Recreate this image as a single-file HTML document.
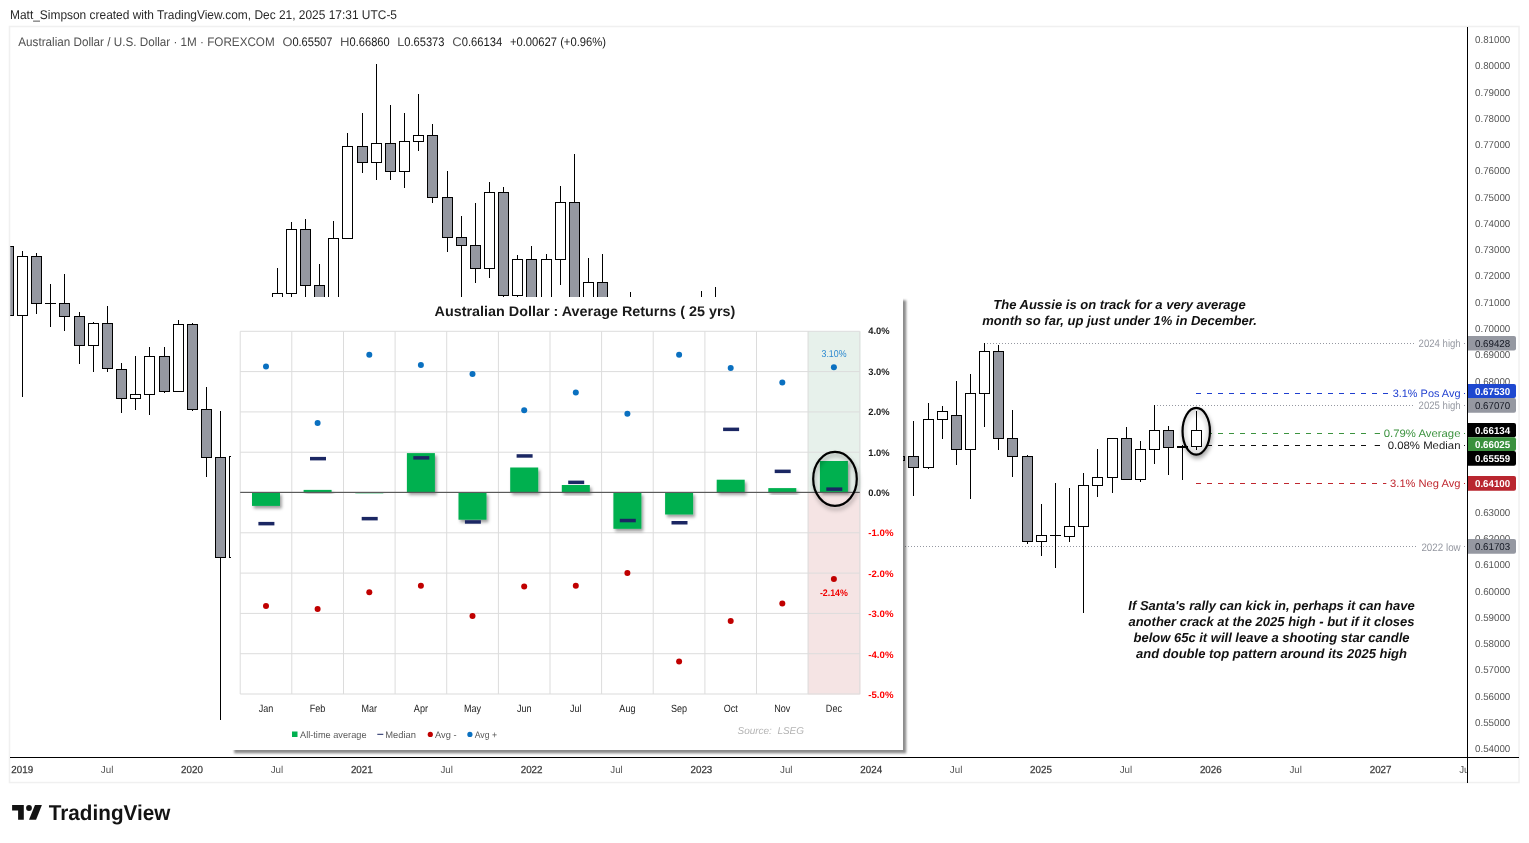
<!DOCTYPE html>
<html><head><meta charset="utf-8"><style>
html,body{margin:0;padding:0;background:#fff;}
svg{display:block;will-change:transform;} text{text-rendering:geometricPrecision;}
</style></head><body>
<svg width="1529" height="843" viewBox="0 0 1529 843">
<rect width="1529" height="843" fill="#fff"/>
<defs>
<filter id="pshadow" x="-5%" y="-5%" width="110%" height="110%"><feDropShadow dx="3.2" dy="3.3" stdDeviation="1.1" flood-color="#000" flood-opacity="0.45"/></filter>
<filter id="bshadow" x="-30%" y="-50%" width="160%" height="200%"><feDropShadow dx="1.8" dy="2.6" stdDeviation="1.8" flood-color="#000" flood-opacity="0.38"/></filter>
<filter id="eshadow" x="-30%" y="-30%" width="160%" height="160%"><feDropShadow dx="1" dy="3" stdDeviation="2" flood-color="#000" flood-opacity="0.35"/></filter>
<radialGradient id="eg" cx="50%" cy="50%" r="50%"><stop offset="0.55" stop-color="#fff"/><stop offset="1" stop-color="#d6d6d6"/></radialGradient>
<clipPath id="tclip"><rect x="10" y="758" width="1457" height="25"/></clipPath>
<clipPath id="plot"><rect x="10" y="27" width="1457" height="730"/></clipPath>
</defs>
<g clip-path="url(#plot)">
<line x1="984" y1="343.5" x2="1414" y2="343.5" stroke="#9598a1" stroke-width="1" stroke-dasharray="1 2"/>
<line x1="1154" y1="405.5" x2="1414" y2="405.5" stroke="#9598a1" stroke-width="1" stroke-dasharray="1 2"/>
<line x1="659" y1="546.5" x2="1416" y2="546.5" stroke="#9598a1" stroke-width="1" stroke-dasharray="1 2"/>
<line x1="1196" y1="393.5" x2="1388" y2="393.5" stroke="#1f3fd0" stroke-width="1" stroke-dasharray="5 6"/>
<line x1="1196" y1="433.5" x2="1367" y2="433.5" stroke="#3c933f" stroke-width="1" stroke-dasharray="5 6"/>
<rect x="1374.7" y="433" width="5.3" height="1" fill="#3c933f"/>
<line x1="1196" y1="445.5" x2="1367" y2="445.5" stroke="#111" stroke-width="1" stroke-dasharray="5 6"/>
<rect x="1374.7" y="445" width="5.3" height="1" fill="#111"/>
<line x1="1196" y1="483.5" x2="1386.3" y2="483.5" stroke="#c0272f" stroke-width="1" stroke-dasharray="5 6"/>
<ellipse cx="1196.25" cy="431.25" rx="13.7" ry="23.4" fill="url(#eg)" stroke="#000" stroke-width="2.2" filter="url(#eshadow)"/>
<rect x="3" y="246" width="11" height="70" fill="#000"/>
<rect x="4" y="247" width="9" height="68" fill="#9598a1"/>
<rect x="22" y="251" width="1" height="5" fill="#000"/>
<rect x="22" y="316" width="1" height="81" fill="#000"/>
<rect x="17" y="256" width="11" height="60" fill="#000"/>
<rect x="18" y="257" width="9" height="58" fill="#ffffff"/>
<rect x="36" y="253" width="1" height="3" fill="#000"/>
<rect x="36" y="304" width="1" height="10" fill="#000"/>
<rect x="31" y="256" width="11" height="48" fill="#000"/>
<rect x="32" y="257" width="9" height="46" fill="#9598a1"/>
<rect x="50" y="284" width="1" height="19" fill="#000"/>
<rect x="50" y="304" width="1" height="23" fill="#000"/>
<rect x="45" y="303" width="11" height="1" fill="#000"/>
<rect x="64" y="274" width="1" height="29" fill="#000"/>
<rect x="64" y="317" width="1" height="14" fill="#000"/>
<rect x="59" y="303" width="11" height="14" fill="#000"/>
<rect x="60" y="304" width="9" height="12" fill="#9598a1"/>
<rect x="79" y="312" width="1" height="4" fill="#000"/>
<rect x="79" y="346" width="1" height="18" fill="#000"/>
<rect x="74" y="316" width="11" height="30" fill="#000"/>
<rect x="75" y="317" width="9" height="28" fill="#9598a1"/>
<rect x="93" y="322" width="1" height="1" fill="#000"/>
<rect x="93" y="346" width="1" height="26" fill="#000"/>
<rect x="88" y="323" width="11" height="23" fill="#000"/>
<rect x="89" y="324" width="9" height="21" fill="#ffffff"/>
<rect x="107" y="306" width="1" height="17" fill="#000"/>
<rect x="107" y="369" width="1" height="3" fill="#000"/>
<rect x="102" y="323" width="11" height="46" fill="#000"/>
<rect x="103" y="324" width="9" height="44" fill="#9598a1"/>
<rect x="121" y="363" width="1" height="6" fill="#000"/>
<rect x="121" y="399" width="1" height="14" fill="#000"/>
<rect x="116" y="369" width="11" height="30" fill="#000"/>
<rect x="117" y="370" width="9" height="28" fill="#9598a1"/>
<rect x="135" y="356" width="1" height="38" fill="#000"/>
<rect x="135" y="399" width="1" height="11" fill="#000"/>
<rect x="130" y="394" width="11" height="5" fill="#000"/>
<rect x="131" y="395" width="9" height="3" fill="#ffffff"/>
<rect x="149" y="347" width="1" height="9" fill="#000"/>
<rect x="149" y="395" width="1" height="20" fill="#000"/>
<rect x="144" y="356" width="11" height="39" fill="#000"/>
<rect x="145" y="357" width="9" height="37" fill="#ffffff"/>
<rect x="164" y="347" width="1" height="9" fill="#000"/>
<rect x="164" y="392" width="1" height="1" fill="#000"/>
<rect x="159" y="356" width="11" height="36" fill="#000"/>
<rect x="160" y="357" width="9" height="34" fill="#9598a1"/>
<rect x="178" y="320" width="1" height="4" fill="#000"/>
<rect x="173" y="324" width="11" height="68" fill="#000"/>
<rect x="174" y="325" width="9" height="66" fill="#ffffff"/>
<rect x="192" y="323" width="1" height="1" fill="#000"/>
<rect x="192" y="410" width="1" height="1" fill="#000"/>
<rect x="187" y="324" width="11" height="86" fill="#000"/>
<rect x="188" y="325" width="9" height="84" fill="#9598a1"/>
<rect x="206" y="387" width="1" height="22" fill="#000"/>
<rect x="206" y="458" width="1" height="19" fill="#000"/>
<rect x="201" y="409" width="11" height="49" fill="#000"/>
<rect x="202" y="410" width="9" height="47" fill="#9598a1"/>
<rect x="220" y="411" width="1" height="46" fill="#000"/>
<rect x="220" y="558" width="1" height="162" fill="#000"/>
<rect x="215" y="457" width="11" height="101" fill="#000"/>
<rect x="216" y="458" width="9" height="99" fill="#9598a1"/>
<rect x="229" y="456" width="11" height="102" fill="#000"/>
<rect x="230" y="457" width="9" height="100" fill="#ffffff"/>
<rect x="277" y="268" width="1" height="25" fill="#000"/>
<rect x="277" y="330" width="1" height="10" fill="#000"/>
<rect x="272" y="293" width="11" height="37" fill="#000"/>
<rect x="273" y="294" width="9" height="35" fill="#ffffff"/>
<rect x="291" y="222" width="1" height="7" fill="#000"/>
<rect x="291" y="294" width="1" height="16" fill="#000"/>
<rect x="286" y="229" width="11" height="65" fill="#000"/>
<rect x="287" y="230" width="9" height="63" fill="#ffffff"/>
<rect x="305" y="219" width="1" height="10" fill="#000"/>
<rect x="305" y="286" width="1" height="24" fill="#000"/>
<rect x="300" y="229" width="11" height="57" fill="#000"/>
<rect x="301" y="230" width="9" height="55" fill="#9598a1"/>
<rect x="319" y="264" width="1" height="21" fill="#000"/>
<rect x="319" y="330" width="1" height="10" fill="#000"/>
<rect x="314" y="285" width="11" height="45" fill="#000"/>
<rect x="315" y="286" width="9" height="43" fill="#9598a1"/>
<rect x="333" y="221" width="1" height="17" fill="#000"/>
<rect x="333" y="330" width="1" height="10" fill="#000"/>
<rect x="328" y="238" width="11" height="92" fill="#000"/>
<rect x="329" y="239" width="9" height="90" fill="#ffffff"/>
<rect x="347" y="133" width="1" height="13" fill="#000"/>
<rect x="342" y="146" width="11" height="93" fill="#000"/>
<rect x="343" y="147" width="9" height="91" fill="#ffffff"/>
<rect x="362" y="113" width="1" height="33" fill="#000"/>
<rect x="362" y="163" width="1" height="10" fill="#000"/>
<rect x="357" y="146" width="11" height="17" fill="#000"/>
<rect x="358" y="147" width="9" height="15" fill="#9598a1"/>
<rect x="376" y="64" width="1" height="79" fill="#000"/>
<rect x="376" y="163" width="1" height="17" fill="#000"/>
<rect x="371" y="143" width="11" height="20" fill="#000"/>
<rect x="372" y="144" width="9" height="18" fill="#ffffff"/>
<rect x="390" y="105" width="1" height="38" fill="#000"/>
<rect x="390" y="172" width="1" height="8" fill="#000"/>
<rect x="385" y="143" width="11" height="29" fill="#000"/>
<rect x="386" y="144" width="9" height="27" fill="#9598a1"/>
<rect x="404" y="113" width="1" height="28" fill="#000"/>
<rect x="404" y="172" width="1" height="16" fill="#000"/>
<rect x="399" y="141" width="11" height="31" fill="#000"/>
<rect x="400" y="142" width="9" height="29" fill="#ffffff"/>
<rect x="418" y="94" width="1" height="41" fill="#000"/>
<rect x="418" y="142" width="1" height="9" fill="#000"/>
<rect x="413" y="135" width="11" height="7" fill="#000"/>
<rect x="414" y="136" width="9" height="5" fill="#ffffff"/>
<rect x="432" y="124" width="1" height="11" fill="#000"/>
<rect x="432" y="198" width="1" height="5" fill="#000"/>
<rect x="427" y="135" width="11" height="63" fill="#000"/>
<rect x="428" y="136" width="9" height="61" fill="#9598a1"/>
<rect x="447" y="171" width="1" height="26" fill="#000"/>
<rect x="447" y="238" width="1" height="14" fill="#000"/>
<rect x="442" y="197" width="11" height="41" fill="#000"/>
<rect x="443" y="198" width="9" height="39" fill="#9598a1"/>
<rect x="461" y="216" width="1" height="21" fill="#000"/>
<rect x="461" y="246" width="1" height="84" fill="#000"/>
<rect x="456" y="237" width="11" height="9" fill="#000"/>
<rect x="457" y="238" width="9" height="7" fill="#9598a1"/>
<rect x="475" y="203" width="1" height="42" fill="#000"/>
<rect x="475" y="269" width="1" height="14" fill="#000"/>
<rect x="470" y="245" width="11" height="24" fill="#000"/>
<rect x="471" y="246" width="9" height="22" fill="#9598a1"/>
<rect x="489" y="182" width="1" height="10" fill="#000"/>
<rect x="489" y="269" width="1" height="9" fill="#000"/>
<rect x="484" y="192" width="11" height="77" fill="#000"/>
<rect x="485" y="193" width="9" height="75" fill="#ffffff"/>
<rect x="503" y="187" width="1" height="5" fill="#000"/>
<rect x="503" y="296" width="1" height="4" fill="#000"/>
<rect x="498" y="192" width="11" height="104" fill="#000"/>
<rect x="499" y="193" width="9" height="102" fill="#9598a1"/>
<rect x="517" y="255" width="1" height="4" fill="#000"/>
<rect x="517" y="296" width="1" height="4" fill="#000"/>
<rect x="512" y="259" width="11" height="37" fill="#000"/>
<rect x="513" y="260" width="9" height="35" fill="#ffffff"/>
<rect x="531" y="246" width="1" height="13" fill="#000"/>
<rect x="531" y="330" width="1" height="10" fill="#000"/>
<rect x="526" y="259" width="11" height="71" fill="#000"/>
<rect x="527" y="260" width="9" height="69" fill="#9598a1"/>
<rect x="546" y="254" width="1" height="5" fill="#000"/>
<rect x="546" y="330" width="1" height="10" fill="#000"/>
<rect x="541" y="259" width="11" height="71" fill="#000"/>
<rect x="542" y="260" width="9" height="69" fill="#ffffff"/>
<rect x="560" y="186" width="1" height="16" fill="#000"/>
<rect x="560" y="260" width="1" height="25" fill="#000"/>
<rect x="555" y="202" width="11" height="58" fill="#000"/>
<rect x="556" y="203" width="9" height="56" fill="#ffffff"/>
<rect x="574" y="154" width="1" height="48" fill="#000"/>
<rect x="574" y="330" width="1" height="10" fill="#000"/>
<rect x="569" y="202" width="11" height="128" fill="#000"/>
<rect x="570" y="203" width="9" height="126" fill="#9598a1"/>
<rect x="588" y="258" width="1" height="24" fill="#000"/>
<rect x="588" y="330" width="1" height="10" fill="#000"/>
<rect x="583" y="282" width="11" height="48" fill="#000"/>
<rect x="584" y="283" width="9" height="46" fill="#ffffff"/>
<rect x="602" y="254" width="1" height="28" fill="#000"/>
<rect x="602" y="330" width="1" height="10" fill="#000"/>
<rect x="597" y="282" width="11" height="48" fill="#000"/>
<rect x="598" y="283" width="9" height="46" fill="#9598a1"/>
<rect x="630" y="292" width="1" height="28" fill="#000"/>
<rect x="630" y="330" width="1" height="10" fill="#000"/>
<rect x="625" y="320" width="11" height="10" fill="#000"/>
<rect x="626" y="321" width="9" height="8" fill="#ffffff"/>
<rect x="701" y="291" width="1" height="29" fill="#000"/>
<rect x="701" y="330" width="1" height="10" fill="#000"/>
<rect x="696" y="320" width="11" height="10" fill="#000"/>
<rect x="697" y="321" width="9" height="8" fill="#ffffff"/>
<rect x="715" y="287" width="1" height="33" fill="#000"/>
<rect x="715" y="330" width="1" height="10" fill="#000"/>
<rect x="710" y="320" width="11" height="10" fill="#000"/>
<rect x="711" y="321" width="9" height="8" fill="#ffffff"/>
<rect x="899" y="440" width="1" height="16" fill="#000"/>
<rect x="899" y="461" width="1" height="29" fill="#000"/>
<rect x="894" y="456" width="11" height="5" fill="#000"/>
<rect x="895" y="457" width="9" height="3" fill="#9598a1"/>
<rect x="913" y="421" width="1" height="35" fill="#000"/>
<rect x="913" y="468" width="1" height="28" fill="#000"/>
<rect x="908" y="456" width="11" height="12" fill="#000"/>
<rect x="909" y="457" width="9" height="10" fill="#9598a1"/>
<rect x="928" y="403" width="1" height="16" fill="#000"/>
<rect x="928" y="468" width="1" height="1" fill="#000"/>
<rect x="923" y="419" width="11" height="49" fill="#000"/>
<rect x="924" y="420" width="9" height="47" fill="#ffffff"/>
<rect x="942" y="406" width="1" height="5" fill="#000"/>
<rect x="942" y="420" width="1" height="19" fill="#000"/>
<rect x="937" y="411" width="11" height="9" fill="#000"/>
<rect x="938" y="412" width="9" height="7" fill="#ffffff"/>
<rect x="956" y="381" width="1" height="34" fill="#000"/>
<rect x="956" y="450" width="1" height="15" fill="#000"/>
<rect x="951" y="415" width="11" height="35" fill="#000"/>
<rect x="952" y="416" width="9" height="33" fill="#9598a1"/>
<rect x="970" y="374" width="1" height="19" fill="#000"/>
<rect x="970" y="450" width="1" height="49" fill="#000"/>
<rect x="965" y="393" width="11" height="57" fill="#000"/>
<rect x="966" y="394" width="9" height="55" fill="#ffffff"/>
<rect x="984" y="343" width="1" height="8" fill="#000"/>
<rect x="984" y="394" width="1" height="33" fill="#000"/>
<rect x="979" y="351" width="11" height="43" fill="#000"/>
<rect x="980" y="352" width="9" height="41" fill="#ffffff"/>
<rect x="998" y="345" width="1" height="6" fill="#000"/>
<rect x="998" y="439" width="1" height="11" fill="#000"/>
<rect x="993" y="351" width="11" height="88" fill="#000"/>
<rect x="994" y="352" width="9" height="86" fill="#9598a1"/>
<rect x="1012" y="410" width="1" height="28" fill="#000"/>
<rect x="1012" y="457" width="1" height="20" fill="#000"/>
<rect x="1007" y="438" width="11" height="19" fill="#000"/>
<rect x="1008" y="439" width="9" height="17" fill="#9598a1"/>
<rect x="1027" y="455" width="1" height="1" fill="#000"/>
<rect x="1027" y="542" width="1" height="2" fill="#000"/>
<rect x="1022" y="456" width="11" height="86" fill="#000"/>
<rect x="1023" y="457" width="9" height="84" fill="#9598a1"/>
<rect x="1041" y="504" width="1" height="31" fill="#000"/>
<rect x="1041" y="542" width="1" height="14" fill="#000"/>
<rect x="1036" y="535" width="11" height="7" fill="#000"/>
<rect x="1037" y="536" width="9" height="5" fill="#ffffff"/>
<rect x="1055" y="483" width="1" height="52" fill="#000"/>
<rect x="1055" y="536" width="1" height="32" fill="#000"/>
<rect x="1050" y="535" width="11" height="1" fill="#000"/>
<rect x="1069" y="488" width="1" height="38" fill="#000"/>
<rect x="1069" y="537" width="1" height="5" fill="#000"/>
<rect x="1064" y="526" width="11" height="11" fill="#000"/>
<rect x="1065" y="527" width="9" height="9" fill="#ffffff"/>
<rect x="1083" y="473" width="1" height="12" fill="#000"/>
<rect x="1083" y="527" width="1" height="86" fill="#000"/>
<rect x="1078" y="485" width="11" height="42" fill="#000"/>
<rect x="1079" y="486" width="9" height="40" fill="#ffffff"/>
<rect x="1097" y="449" width="1" height="28" fill="#000"/>
<rect x="1097" y="486" width="1" height="11" fill="#000"/>
<rect x="1092" y="477" width="11" height="9" fill="#000"/>
<rect x="1093" y="478" width="9" height="7" fill="#ffffff"/>
<rect x="1112" y="478" width="1" height="15" fill="#000"/>
<rect x="1107" y="438" width="11" height="40" fill="#000"/>
<rect x="1108" y="439" width="9" height="38" fill="#ffffff"/>
<rect x="1126" y="427" width="1" height="11" fill="#000"/>
<rect x="1121" y="438" width="11" height="42" fill="#000"/>
<rect x="1122" y="439" width="9" height="40" fill="#9598a1"/>
<rect x="1140" y="441" width="1" height="8" fill="#000"/>
<rect x="1140" y="480" width="1" height="2" fill="#000"/>
<rect x="1135" y="449" width="11" height="31" fill="#000"/>
<rect x="1136" y="450" width="9" height="29" fill="#ffffff"/>
<rect x="1154" y="405" width="1" height="25" fill="#000"/>
<rect x="1154" y="450" width="1" height="14" fill="#000"/>
<rect x="1149" y="430" width="11" height="20" fill="#000"/>
<rect x="1150" y="431" width="9" height="18" fill="#ffffff"/>
<rect x="1168" y="426" width="1" height="4" fill="#000"/>
<rect x="1168" y="448" width="1" height="27" fill="#000"/>
<rect x="1163" y="430" width="11" height="18" fill="#000"/>
<rect x="1164" y="431" width="9" height="16" fill="#9598a1"/>
<rect x="1182" y="445" width="1" height="1" fill="#000"/>
<rect x="1182" y="448" width="1" height="32" fill="#000"/>
<rect x="1177" y="446" width="11" height="2" fill="#000"/>
<rect x="1196" y="411" width="1" height="19" fill="#000"/>
<rect x="1196" y="447" width="1" height="3" fill="#000"/>
<rect x="1191" y="430" width="11" height="17" fill="#000"/>
<rect x="1192" y="431" width="9" height="15" fill="#ffffff"/>
</g>
<rect x="231" y="297" width="672" height="453" fill="#fff" filter="url(#pshadow)"/>
<text x="434.5" y="315.7" font-family="Liberation Sans" font-size="14" fill="#1a1a1a" font-weight="bold" font-style="normal" text-anchor="start" textLength="300.8" lengthAdjust="spacingAndGlyphs">Australian Dollar : Average Returns ( 25 yrs)</text>
<rect x="807.8" y="331.3" width="52.7" height="161.2" fill="#e7f1eb"/>
<rect x="807.8" y="492.5" width="52.7" height="202.0" fill="#f5e4e4"/>
<rect x="240.2" y="330.8" width="619.6" height="1" fill="#dcdcdc"/>
<rect x="240.2" y="371.1" width="619.6" height="1" fill="#dcdcdc"/>
<rect x="240.2" y="411.4" width="619.6" height="1" fill="#dcdcdc"/>
<rect x="240.2" y="451.7" width="619.6" height="1" fill="#dcdcdc"/>
<rect x="240.2" y="492.0" width="619.6" height="1" fill="#dcdcdc"/>
<rect x="240.2" y="532.3" width="619.6" height="1" fill="#dcdcdc"/>
<rect x="240.2" y="572.6" width="619.6" height="1" fill="#dcdcdc"/>
<rect x="240.2" y="612.9" width="619.6" height="1" fill="#dcdcdc"/>
<rect x="240.2" y="653.2" width="619.6" height="1" fill="#dcdcdc"/>
<rect x="240.2" y="693.5" width="619.6" height="1" fill="#dcdcdc"/>
<rect x="239.7" y="331.3" width="1" height="362.7" fill="#dcdcdc"/>
<rect x="291.3" y="331.3" width="1" height="362.7" fill="#dcdcdc"/>
<rect x="343.0" y="331.3" width="1" height="362.7" fill="#dcdcdc"/>
<rect x="394.6" y="331.3" width="1" height="362.7" fill="#dcdcdc"/>
<rect x="446.2" y="331.3" width="1" height="362.7" fill="#dcdcdc"/>
<rect x="497.9" y="331.3" width="1" height="362.7" fill="#dcdcdc"/>
<rect x="549.5" y="331.3" width="1" height="362.7" fill="#dcdcdc"/>
<rect x="601.1" y="331.3" width="1" height="362.7" fill="#dcdcdc"/>
<rect x="652.7" y="331.3" width="1" height="362.7" fill="#dcdcdc"/>
<rect x="704.4" y="331.3" width="1" height="362.7" fill="#dcdcdc"/>
<rect x="756.0" y="331.3" width="1" height="362.7" fill="#dcdcdc"/>
<rect x="807.6" y="331.3" width="1" height="362.7" fill="#dcdcdc"/>
<rect x="859.3" y="331.3" width="1" height="362.7" fill="#dcdcdc"/>
<rect x="252.0" y="492.3" width="28" height="13.6" fill="#00b050" filter="url(#bshadow)"/>
<rect x="303.6" y="489.9" width="28" height="2.4" fill="#00b050" filter="url(#bshadow)"/>
<rect x="355.3" y="492.3" width="28" height="1.0" fill="#00b050" filter="url(#bshadow)"/>
<rect x="406.9" y="453.1" width="28" height="39.2" fill="#00b050" filter="url(#bshadow)"/>
<rect x="458.5" y="492.3" width="28" height="27.4" fill="#00b050" filter="url(#bshadow)"/>
<rect x="510.2" y="467.5" width="28" height="24.8" fill="#00b050" filter="url(#bshadow)"/>
<rect x="561.8" y="485.0" width="28" height="7.3" fill="#00b050" filter="url(#bshadow)"/>
<rect x="613.4" y="492.3" width="28" height="36.5" fill="#00b050" filter="url(#bshadow)"/>
<rect x="665.1" y="492.3" width="28" height="22.2" fill="#00b050" filter="url(#bshadow)"/>
<rect x="716.7" y="479.7" width="28" height="12.6" fill="#00b050" filter="url(#bshadow)"/>
<rect x="768.3" y="488.1" width="28" height="4.2" fill="#00b050" filter="url(#bshadow)"/>
<rect x="819.9" y="461.0" width="28" height="31.3" fill="#00b050" filter="url(#bshadow)"/>
<rect x="240.2" y="491.8" width="619.6" height="1.2" fill="#5a5a5a"/>
<rect x="258.4" y="521.9" width="16" height="3.5" fill="#1b2763"/>
<circle cx="266.0" cy="366.5" r="3" fill="#0a70c0"/>
<circle cx="266.0" cy="606.0" r="3" fill="#c00000"/>
<text x="266.0" y="711.5" font-family="Liberation Sans" font-size="10.5" fill="#222" font-weight="normal" font-style="normal" text-anchor="middle" textLength="14.6" lengthAdjust="spacingAndGlyphs">Jan</text>
<rect x="310.0" y="456.9" width="16" height="3.5" fill="#1b2763"/>
<circle cx="317.6" cy="423.1" r="3" fill="#0a70c0"/>
<circle cx="317.6" cy="609.1" r="3" fill="#c00000"/>
<text x="317.6" y="711.5" font-family="Liberation Sans" font-size="10.5" fill="#222" font-weight="normal" font-style="normal" text-anchor="middle" textLength="15.6" lengthAdjust="spacingAndGlyphs">Feb</text>
<rect x="361.7" y="516.9" width="16" height="3.5" fill="#1b2763"/>
<circle cx="369.3" cy="354.7" r="3" fill="#0a70c0"/>
<circle cx="369.3" cy="592.3" r="3" fill="#c00000"/>
<text x="369.3" y="711.5" font-family="Liberation Sans" font-size="10.5" fill="#222" font-weight="normal" font-style="normal" text-anchor="middle" textLength="15.5" lengthAdjust="spacingAndGlyphs">Mar</text>
<rect x="413.3" y="456.1" width="16" height="3.5" fill="#1b2763"/>
<circle cx="420.9" cy="364.9" r="3" fill="#0a70c0"/>
<circle cx="420.9" cy="585.8" r="3" fill="#c00000"/>
<text x="420.9" y="711.5" font-family="Liberation Sans" font-size="10.5" fill="#222" font-weight="normal" font-style="normal" text-anchor="middle" textLength="14.1" lengthAdjust="spacingAndGlyphs">Apr</text>
<rect x="464.9" y="520.2" width="16" height="3.5" fill="#1b2763"/>
<circle cx="472.5" cy="374.0" r="3" fill="#0a70c0"/>
<circle cx="472.5" cy="616.0" r="3" fill="#c00000"/>
<text x="472.5" y="711.5" font-family="Liberation Sans" font-size="10.5" fill="#222" font-weight="normal" font-style="normal" text-anchor="middle" textLength="17.1" lengthAdjust="spacingAndGlyphs">May</text>
<rect x="516.6" y="454.2" width="16" height="3.5" fill="#1b2763"/>
<circle cx="524.2" cy="410.3" r="3" fill="#0a70c0"/>
<circle cx="524.2" cy="586.6" r="3" fill="#c00000"/>
<text x="524.2" y="711.5" font-family="Liberation Sans" font-size="10.5" fill="#222" font-weight="normal" font-style="normal" text-anchor="middle" textLength="14.6" lengthAdjust="spacingAndGlyphs">Jun</text>
<rect x="568.2" y="480.6" width="16" height="3.5" fill="#1b2763"/>
<circle cx="575.8" cy="392.6" r="3" fill="#0a70c0"/>
<circle cx="575.8" cy="585.8" r="3" fill="#c00000"/>
<text x="575.8" y="711.5" font-family="Liberation Sans" font-size="10.5" fill="#222" font-weight="normal" font-style="normal" text-anchor="middle" textLength="11.5" lengthAdjust="spacingAndGlyphs">Jul</text>
<rect x="619.8" y="518.8" width="16" height="3.5" fill="#1b2763"/>
<circle cx="627.4" cy="413.7" r="3" fill="#0a70c0"/>
<circle cx="627.4" cy="573.0" r="3" fill="#c00000"/>
<text x="627.4" y="711.5" font-family="Liberation Sans" font-size="10.5" fill="#222" font-weight="normal" font-style="normal" text-anchor="middle" textLength="16.1" lengthAdjust="spacingAndGlyphs">Aug</text>
<rect x="671.5" y="521.0" width="16" height="3.5" fill="#1b2763"/>
<circle cx="679.1" cy="354.7" r="3" fill="#0a70c0"/>
<circle cx="679.1" cy="661.5" r="3" fill="#c00000"/>
<text x="679.1" y="711.5" font-family="Liberation Sans" font-size="10.5" fill="#222" font-weight="normal" font-style="normal" text-anchor="middle" textLength="16.1" lengthAdjust="spacingAndGlyphs">Sep</text>
<rect x="723.1" y="427.6" width="16" height="3.5" fill="#1b2763"/>
<circle cx="730.7" cy="368.0" r="3" fill="#0a70c0"/>
<circle cx="730.7" cy="621.1" r="3" fill="#c00000"/>
<text x="730.7" y="711.5" font-family="Liberation Sans" font-size="10.5" fill="#222" font-weight="normal" font-style="normal" text-anchor="middle" textLength="14.0" lengthAdjust="spacingAndGlyphs">Oct</text>
<rect x="774.7" y="469.6" width="16" height="3.5" fill="#1b2763"/>
<circle cx="782.3" cy="382.6" r="3" fill="#0a70c0"/>
<circle cx="782.3" cy="603.4" r="3" fill="#c00000"/>
<text x="782.3" y="711.5" font-family="Liberation Sans" font-size="10.5" fill="#222" font-weight="normal" font-style="normal" text-anchor="middle" textLength="16.1" lengthAdjust="spacingAndGlyphs">Nov</text>
<rect x="826.3" y="487.4" width="16" height="3.5" fill="#1b2763"/>
<circle cx="833.9" cy="367.2" r="3" fill="#0a70c0"/>
<circle cx="833.9" cy="578.9" r="3" fill="#c00000"/>
<text x="833.9" y="711.5" font-family="Liberation Sans" font-size="10.5" fill="#222" font-weight="normal" font-style="normal" text-anchor="middle" textLength="16.1" lengthAdjust="spacingAndGlyphs">Dec</text>
<text x="868.3" y="334.1" font-family="Liberation Sans" font-size="9.4" fill="#1a1a1a" font-weight="bold" font-style="normal" text-anchor="start" textLength="21.4" lengthAdjust="spacingAndGlyphs">4.0%</text>
<text x="868.3" y="374.6" font-family="Liberation Sans" font-size="9.4" fill="#1a1a1a" font-weight="bold" font-style="normal" text-anchor="start" textLength="21.4" lengthAdjust="spacingAndGlyphs">3.0%</text>
<text x="868.3" y="415.0" font-family="Liberation Sans" font-size="9.4" fill="#1a1a1a" font-weight="bold" font-style="normal" text-anchor="start" textLength="21.4" lengthAdjust="spacingAndGlyphs">2.0%</text>
<text x="868.3" y="455.5" font-family="Liberation Sans" font-size="9.4" fill="#1a1a1a" font-weight="bold" font-style="normal" text-anchor="start" textLength="21.4" lengthAdjust="spacingAndGlyphs">1.0%</text>
<text x="868.3" y="495.9" font-family="Liberation Sans" font-size="9.4" fill="#1a1a1a" font-weight="bold" font-style="normal" text-anchor="start" textLength="21.4" lengthAdjust="spacingAndGlyphs">0.0%</text>
<text x="868.3" y="536.4" font-family="Liberation Sans" font-size="9.4" fill="#ff0000" font-weight="bold" font-style="normal" text-anchor="start" textLength="25.2" lengthAdjust="spacingAndGlyphs">-1.0%</text>
<text x="868.3" y="576.9" font-family="Liberation Sans" font-size="9.4" fill="#ff0000" font-weight="bold" font-style="normal" text-anchor="start" textLength="25.2" lengthAdjust="spacingAndGlyphs">-2.0%</text>
<text x="868.3" y="617.3" font-family="Liberation Sans" font-size="9.4" fill="#ff0000" font-weight="bold" font-style="normal" text-anchor="start" textLength="25.2" lengthAdjust="spacingAndGlyphs">-3.0%</text>
<text x="868.3" y="657.8" font-family="Liberation Sans" font-size="9.4" fill="#ff0000" font-weight="bold" font-style="normal" text-anchor="start" textLength="25.2" lengthAdjust="spacingAndGlyphs">-4.0%</text>
<text x="868.3" y="698.2" font-family="Liberation Sans" font-size="9.4" fill="#ff0000" font-weight="bold" font-style="normal" text-anchor="start" textLength="25.2" lengthAdjust="spacingAndGlyphs">-5.0%</text>
<text x="834" y="357" font-family="Liberation Sans" font-size="10" fill="#2d8ad0" font-weight="normal" font-style="normal" text-anchor="middle" textLength="25" lengthAdjust="spacingAndGlyphs">3.10%</text>
<text x="833.9" y="596.0" font-family="Liberation Sans" font-size="9.5" fill="#f00000" font-weight="bold" font-style="normal" text-anchor="middle" textLength="28" lengthAdjust="spacingAndGlyphs">-2.14%</text>
<ellipse cx="835" cy="478.9" rx="21.8" ry="27" fill="none" stroke="#000" stroke-width="2.2" filter="url(#eshadow)"/>
<rect x="292" y="731.5" width="5.5" height="5.5" fill="#00b050"/>
<text x="300" y="738" font-family="Liberation Sans" font-size="9.5" fill="#595959" font-weight="normal" font-style="normal" text-anchor="start" textLength="66.5" lengthAdjust="spacingAndGlyphs">All-time average</text>
<rect x="377.3" y="733.8" width="6" height="1" fill="#1b2763"/>
<text x="385.3" y="738" font-family="Liberation Sans" font-size="9.5" fill="#595959" font-weight="normal" font-style="normal" text-anchor="start" textLength="30.7" lengthAdjust="spacingAndGlyphs">Median</text>
<circle cx="430.3" cy="734.4" r="2.6" fill="#c00000"/>
<text x="435" y="738" font-family="Liberation Sans" font-size="9.5" fill="#595959" font-weight="normal" font-style="normal" text-anchor="start" textLength="21.5" lengthAdjust="spacingAndGlyphs">Avg -</text>
<circle cx="469.9" cy="734.4" r="2.6" fill="#0a70c0"/>
<text x="474.7" y="738" font-family="Liberation Sans" font-size="9.5" fill="#595959" font-weight="normal" font-style="normal" text-anchor="start" textLength="22.3" lengthAdjust="spacingAndGlyphs">Avg +</text>
<text x="737.5" y="734.3" font-family="Liberation Sans" font-size="10" fill="#b4b4b4" font-weight="normal" font-style="italic" text-anchor="start" textLength="66.5" lengthAdjust="spacingAndGlyphs">Source:  LSEG</text>
<text x="10" y="19" font-family="Liberation Sans" font-size="12.6" fill="#2a2a2a" font-weight="normal" font-style="normal" text-anchor="start" textLength="387" lengthAdjust="spacingAndGlyphs">Matt_Simpson created with TradingView.com, Dec 21, 2025 17:31 UTC-5</text>
<rect x="9.5" y="26.5" width="1509.5" height="756" fill="none" stroke="#f0f0f0" stroke-width="1.5"/>
<text x="18.3" y="45.7" font-family="Liberation Sans" font-size="12.4" fill="#505050" font-weight="normal" font-style="normal" text-anchor="start" textLength="256.4" lengthAdjust="spacingAndGlyphs">Australian Dollar / U.S. Dollar · 1M · FOREXCOM</text>
<text x="282.4" y="45.7" font-family="Liberation Sans" font-size="12.4" fill="#555" font-weight="normal" font-style="normal" text-anchor="start" textLength="10" lengthAdjust="spacingAndGlyphs">O</text>
<text x="292.4" y="45.7" font-family="Liberation Sans" font-size="12.4" fill="#1a1a1a" font-weight="normal" font-style="normal" text-anchor="start" textLength="40.0" lengthAdjust="spacingAndGlyphs">0.65507</text>
<text x="340.1" y="45.7" font-family="Liberation Sans" font-size="12.4" fill="#555" font-weight="normal" font-style="normal" text-anchor="start" textLength="9.5" lengthAdjust="spacingAndGlyphs">H</text>
<text x="349.6" y="45.7" font-family="Liberation Sans" font-size="12.4" fill="#1a1a1a" font-weight="normal" font-style="normal" text-anchor="start" textLength="40.0" lengthAdjust="spacingAndGlyphs">0.66860</text>
<text x="397.3" y="45.7" font-family="Liberation Sans" font-size="12.4" fill="#555" font-weight="normal" font-style="normal" text-anchor="start" textLength="7" lengthAdjust="spacingAndGlyphs">L</text>
<text x="404.3" y="45.7" font-family="Liberation Sans" font-size="12.4" fill="#1a1a1a" font-weight="normal" font-style="normal" text-anchor="start" textLength="40.2" lengthAdjust="spacingAndGlyphs">0.65373</text>
<text x="452.2" y="45.7" font-family="Liberation Sans" font-size="12.4" fill="#555" font-weight="normal" font-style="normal" text-anchor="start" textLength="9.5" lengthAdjust="spacingAndGlyphs">C</text>
<text x="461.7" y="45.7" font-family="Liberation Sans" font-size="12.4" fill="#1a1a1a" font-weight="normal" font-style="normal" text-anchor="start" textLength="40.5" lengthAdjust="spacingAndGlyphs">0.66134</text>
<text x="509.9" y="45.7" font-family="Liberation Sans" font-size="12.4" fill="#1a1a1a" font-weight="normal" font-style="normal" text-anchor="start" textLength="96.1" lengthAdjust="spacingAndGlyphs">+0.00627 (+0.96%)</text>
<rect x="10" y="757" width="1509" height="1" fill="#000"/>
<rect x="1467" y="27" width="1" height="756" fill="#000"/>
<text x="1475" y="43.1" font-family="Liberation Sans" font-size="10" fill="#555" font-weight="normal" font-style="normal" text-anchor="start" textLength="35.3" lengthAdjust="spacingAndGlyphs">0.81000</text>
<text x="1475" y="69.4" font-family="Liberation Sans" font-size="10" fill="#555" font-weight="normal" font-style="normal" text-anchor="start" textLength="35.3" lengthAdjust="spacingAndGlyphs">0.80000</text>
<text x="1475" y="95.6" font-family="Liberation Sans" font-size="10" fill="#555" font-weight="normal" font-style="normal" text-anchor="start" textLength="35.3" lengthAdjust="spacingAndGlyphs">0.79000</text>
<text x="1475" y="121.9" font-family="Liberation Sans" font-size="10" fill="#555" font-weight="normal" font-style="normal" text-anchor="start" textLength="35.3" lengthAdjust="spacingAndGlyphs">0.78000</text>
<text x="1475" y="148.1" font-family="Liberation Sans" font-size="10" fill="#555" font-weight="normal" font-style="normal" text-anchor="start" textLength="35.3" lengthAdjust="spacingAndGlyphs">0.77000</text>
<text x="1475" y="174.4" font-family="Liberation Sans" font-size="10" fill="#555" font-weight="normal" font-style="normal" text-anchor="start" textLength="35.3" lengthAdjust="spacingAndGlyphs">0.76000</text>
<text x="1475" y="200.7" font-family="Liberation Sans" font-size="10" fill="#555" font-weight="normal" font-style="normal" text-anchor="start" textLength="35.3" lengthAdjust="spacingAndGlyphs">0.75000</text>
<text x="1475" y="226.9" font-family="Liberation Sans" font-size="10" fill="#555" font-weight="normal" font-style="normal" text-anchor="start" textLength="35.3" lengthAdjust="spacingAndGlyphs">0.74000</text>
<text x="1475" y="253.2" font-family="Liberation Sans" font-size="10" fill="#555" font-weight="normal" font-style="normal" text-anchor="start" textLength="35.3" lengthAdjust="spacingAndGlyphs">0.73000</text>
<text x="1475" y="279.4" font-family="Liberation Sans" font-size="10" fill="#555" font-weight="normal" font-style="normal" text-anchor="start" textLength="35.3" lengthAdjust="spacingAndGlyphs">0.72000</text>
<text x="1475" y="305.7" font-family="Liberation Sans" font-size="10" fill="#555" font-weight="normal" font-style="normal" text-anchor="start" textLength="35.3" lengthAdjust="spacingAndGlyphs">0.71000</text>
<text x="1475" y="331.9" font-family="Liberation Sans" font-size="10" fill="#555" font-weight="normal" font-style="normal" text-anchor="start" textLength="35.3" lengthAdjust="spacingAndGlyphs">0.70000</text>
<text x="1475" y="358.2" font-family="Liberation Sans" font-size="10" fill="#555" font-weight="normal" font-style="normal" text-anchor="start" textLength="35.3" lengthAdjust="spacingAndGlyphs">0.69000</text>
<text x="1475" y="384.5" font-family="Liberation Sans" font-size="10" fill="#555" font-weight="normal" font-style="normal" text-anchor="start" textLength="35.3" lengthAdjust="spacingAndGlyphs">0.68000</text>
<text x="1475" y="410.7" font-family="Liberation Sans" font-size="10" fill="#555" font-weight="normal" font-style="normal" text-anchor="start" textLength="35.3" lengthAdjust="spacingAndGlyphs">0.67000</text>
<text x="1475" y="437.0" font-family="Liberation Sans" font-size="10" fill="#555" font-weight="normal" font-style="normal" text-anchor="start" textLength="35.3" lengthAdjust="spacingAndGlyphs">0.66000</text>
<text x="1475" y="463.2" font-family="Liberation Sans" font-size="10" fill="#555" font-weight="normal" font-style="normal" text-anchor="start" textLength="35.3" lengthAdjust="spacingAndGlyphs">0.65000</text>
<text x="1475" y="489.5" font-family="Liberation Sans" font-size="10" fill="#555" font-weight="normal" font-style="normal" text-anchor="start" textLength="35.3" lengthAdjust="spacingAndGlyphs">0.64000</text>
<text x="1475" y="515.8" font-family="Liberation Sans" font-size="10" fill="#555" font-weight="normal" font-style="normal" text-anchor="start" textLength="35.3" lengthAdjust="spacingAndGlyphs">0.63000</text>
<text x="1475" y="542.0" font-family="Liberation Sans" font-size="10" fill="#555" font-weight="normal" font-style="normal" text-anchor="start" textLength="35.3" lengthAdjust="spacingAndGlyphs">0.62000</text>
<text x="1475" y="568.3" font-family="Liberation Sans" font-size="10" fill="#555" font-weight="normal" font-style="normal" text-anchor="start" textLength="35.3" lengthAdjust="spacingAndGlyphs">0.61000</text>
<text x="1475" y="594.5" font-family="Liberation Sans" font-size="10" fill="#555" font-weight="normal" font-style="normal" text-anchor="start" textLength="35.3" lengthAdjust="spacingAndGlyphs">0.60000</text>
<text x="1475" y="620.8" font-family="Liberation Sans" font-size="10" fill="#555" font-weight="normal" font-style="normal" text-anchor="start" textLength="35.3" lengthAdjust="spacingAndGlyphs">0.59000</text>
<text x="1475" y="647.1" font-family="Liberation Sans" font-size="10" fill="#555" font-weight="normal" font-style="normal" text-anchor="start" textLength="35.3" lengthAdjust="spacingAndGlyphs">0.58000</text>
<text x="1475" y="673.3" font-family="Liberation Sans" font-size="10" fill="#555" font-weight="normal" font-style="normal" text-anchor="start" textLength="35.3" lengthAdjust="spacingAndGlyphs">0.57000</text>
<text x="1475" y="699.6" font-family="Liberation Sans" font-size="10" fill="#555" font-weight="normal" font-style="normal" text-anchor="start" textLength="35.3" lengthAdjust="spacingAndGlyphs">0.56000</text>
<text x="1475" y="725.8" font-family="Liberation Sans" font-size="10" fill="#555" font-weight="normal" font-style="normal" text-anchor="start" textLength="35.3" lengthAdjust="spacingAndGlyphs">0.55000</text>
<text x="1475" y="752.1" font-family="Liberation Sans" font-size="10" fill="#555" font-weight="normal" font-style="normal" text-anchor="start" textLength="35.3" lengthAdjust="spacingAndGlyphs">0.54000</text>
<g clip-path="url(#tclip)">
<text stroke="#3a3a3a" stroke-width="0.25" x="22.2" y="772.6" font-family="Liberation Sans" font-size="10.2" fill="#3a3a3a" font-weight="normal" font-style="normal" text-anchor="middle" textLength="21.8" lengthAdjust="spacingAndGlyphs">2019</text>
<text x="107.1" y="772.6" font-family="Liberation Sans" font-size="10.2" fill="#555" font-weight="normal" font-style="normal" text-anchor="middle" textLength="12.5" lengthAdjust="spacingAndGlyphs">Jul</text>
<text stroke="#3a3a3a" stroke-width="0.25" x="192.0" y="772.6" font-family="Liberation Sans" font-size="10.2" fill="#3a3a3a" font-weight="normal" font-style="normal" text-anchor="middle" textLength="21.8" lengthAdjust="spacingAndGlyphs">2020</text>
<text x="276.9" y="772.6" font-family="Liberation Sans" font-size="10.2" fill="#555" font-weight="normal" font-style="normal" text-anchor="middle" textLength="12.5" lengthAdjust="spacingAndGlyphs">Jul</text>
<text stroke="#3a3a3a" stroke-width="0.25" x="361.8" y="772.6" font-family="Liberation Sans" font-size="10.2" fill="#3a3a3a" font-weight="normal" font-style="normal" text-anchor="middle" textLength="21.8" lengthAdjust="spacingAndGlyphs">2021</text>
<text x="446.7" y="772.6" font-family="Liberation Sans" font-size="10.2" fill="#555" font-weight="normal" font-style="normal" text-anchor="middle" textLength="12.5" lengthAdjust="spacingAndGlyphs">Jul</text>
<text stroke="#3a3a3a" stroke-width="0.25" x="531.6" y="772.6" font-family="Liberation Sans" font-size="10.2" fill="#3a3a3a" font-weight="normal" font-style="normal" text-anchor="middle" textLength="21.8" lengthAdjust="spacingAndGlyphs">2022</text>
<text x="616.5" y="772.6" font-family="Liberation Sans" font-size="10.2" fill="#555" font-weight="normal" font-style="normal" text-anchor="middle" textLength="12.5" lengthAdjust="spacingAndGlyphs">Jul</text>
<text stroke="#3a3a3a" stroke-width="0.25" x="701.4" y="772.6" font-family="Liberation Sans" font-size="10.2" fill="#3a3a3a" font-weight="normal" font-style="normal" text-anchor="middle" textLength="21.8" lengthAdjust="spacingAndGlyphs">2023</text>
<text x="786.3" y="772.6" font-family="Liberation Sans" font-size="10.2" fill="#555" font-weight="normal" font-style="normal" text-anchor="middle" textLength="12.5" lengthAdjust="spacingAndGlyphs">Jul</text>
<text stroke="#3a3a3a" stroke-width="0.25" x="871.2" y="772.6" font-family="Liberation Sans" font-size="10.2" fill="#3a3a3a" font-weight="normal" font-style="normal" text-anchor="middle" textLength="21.8" lengthAdjust="spacingAndGlyphs">2024</text>
<text x="956.1" y="772.6" font-family="Liberation Sans" font-size="10.2" fill="#555" font-weight="normal" font-style="normal" text-anchor="middle" textLength="12.5" lengthAdjust="spacingAndGlyphs">Jul</text>
<text stroke="#3a3a3a" stroke-width="0.25" x="1041.0" y="772.6" font-family="Liberation Sans" font-size="10.2" fill="#3a3a3a" font-weight="normal" font-style="normal" text-anchor="middle" textLength="21.8" lengthAdjust="spacingAndGlyphs">2025</text>
<text x="1125.9" y="772.6" font-family="Liberation Sans" font-size="10.2" fill="#555" font-weight="normal" font-style="normal" text-anchor="middle" textLength="12.5" lengthAdjust="spacingAndGlyphs">Jul</text>
<text stroke="#3a3a3a" stroke-width="0.25" x="1210.8" y="772.6" font-family="Liberation Sans" font-size="10.2" fill="#3a3a3a" font-weight="normal" font-style="normal" text-anchor="middle" textLength="21.8" lengthAdjust="spacingAndGlyphs">2026</text>
<text x="1295.7" y="772.6" font-family="Liberation Sans" font-size="10.2" fill="#555" font-weight="normal" font-style="normal" text-anchor="middle" textLength="12.5" lengthAdjust="spacingAndGlyphs">Jul</text>
<text stroke="#3a3a3a" stroke-width="0.25" x="1380.6" y="772.6" font-family="Liberation Sans" font-size="10.2" fill="#3a3a3a" font-weight="normal" font-style="normal" text-anchor="middle" textLength="21.8" lengthAdjust="spacingAndGlyphs">2027</text>
<text x="1465.4" y="772.6" font-family="Liberation Sans" font-size="10.2" fill="#555" font-weight="normal" font-style="normal" text-anchor="middle" textLength="12.5" lengthAdjust="spacingAndGlyphs">Jul</text>
</g>
<text x="1418.6" y="347.3" font-family="Liberation Sans" font-size="10.8" fill="#9598a1" font-weight="normal" font-style="normal" text-anchor="start" textLength="42.1" lengthAdjust="spacingAndGlyphs">2024 high</text>
<text x="1418.6" y="409.2" font-family="Liberation Sans" font-size="10.8" fill="#9598a1" font-weight="normal" font-style="normal" text-anchor="start" textLength="42.1" lengthAdjust="spacingAndGlyphs">2025 high</text>
<text x="1421.4" y="550.5" font-family="Liberation Sans" font-size="10.8" fill="#9598a1" font-weight="normal" font-style="normal" text-anchor="start" textLength="39.3" lengthAdjust="spacingAndGlyphs">2022 low</text>
<text x="1392.7" y="397.2" font-family="Liberation Sans" font-size="10.8" fill="#1f3fd0" font-weight="normal" font-style="normal" text-anchor="start" textLength="67.8" lengthAdjust="spacingAndGlyphs">3.1% Pos Avg</text>
<text x="1383.7" y="437.0" font-family="Liberation Sans" font-size="10.8" fill="#3c933f" font-weight="normal" font-style="normal" text-anchor="start" textLength="76.8" lengthAdjust="spacingAndGlyphs">0.79% Average</text>
<text x="1387.7" y="449.1" font-family="Liberation Sans" font-size="10.8" fill="#222" font-weight="normal" font-style="normal" text-anchor="start" textLength="72.8" lengthAdjust="spacingAndGlyphs">0.08% Median</text>
<text x="1390.1" y="487.1" font-family="Liberation Sans" font-size="10.8" fill="#c0272f" font-weight="normal" font-style="normal" text-anchor="start" textLength="70.4" lengthAdjust="spacingAndGlyphs">3.1% Neg Avg</text>
<rect x="1464" y="343.0" width="1" height="1" fill="#9598a1"/>
<rect x="1464" y="393.0" width="1" height="1" fill="#1f3fd0"/>
<rect x="1464" y="405.0" width="1" height="1" fill="#9598a1"/>
<rect x="1464" y="433.0" width="1" height="1" fill="#3c933f"/>
<rect x="1464" y="445.0" width="1" height="1" fill="#222"/>
<rect x="1464" y="483.0" width="1" height="1" fill="#c0272f"/>
<rect x="1464" y="546.0" width="1" height="1" fill="#9598a1"/>
<path d="M1468 336 H1514 Q1516 336 1516 338 V348.5 Q1516 350.5 1514 350.5 H1468 Z" fill="#9598a1"/>
<text x="1475" y="346.9" font-family="Liberation Sans" font-size="10" fill="#131722" font-weight="normal" font-style="normal" text-anchor="start" textLength="35.2" lengthAdjust="spacingAndGlyphs">0.69428</text>
<path d="M1468 384.1 H1514 Q1516 384.1 1516 386.1 V395.9 Q1516 397.9 1514 397.9 H1468 Z" fill="#1e48d0"/>
<text x="1475" y="394.6" font-family="Liberation Sans" font-size="10" fill="#fff" font-weight="bold" font-style="normal" text-anchor="start" textLength="35.2" lengthAdjust="spacingAndGlyphs">0.67530</text>
<path d="M1468 397.9 H1514 Q1516 397.9 1516 399.9 V410.7 Q1516 412.7 1514 412.7 H1468 Z" fill="#9598a1"/>
<text x="1475" y="408.9" font-family="Liberation Sans" font-size="10" fill="#131722" font-weight="normal" font-style="normal" text-anchor="start" textLength="35.2" lengthAdjust="spacingAndGlyphs">0.67070</text>
<path d="M1468 423.1 H1514 Q1516 423.1 1516 425.1 V435.3 Q1516 437.3 1514 437.3 H1468 Z" fill="#000"/>
<text x="1475" y="433.8" font-family="Liberation Sans" font-size="10" fill="#fff" font-weight="bold" font-style="normal" text-anchor="start" textLength="35.2" lengthAdjust="spacingAndGlyphs">0.66134</text>
<path d="M1468 437.3 H1514 Q1516 437.3 1516 439.3 V449.1 Q1516 451.1 1514 451.1 H1468 Z" fill="#3a913d"/>
<text x="1475" y="447.8" font-family="Liberation Sans" font-size="10" fill="#fff" font-weight="bold" font-style="normal" text-anchor="start" textLength="35.2" lengthAdjust="spacingAndGlyphs">0.66025</text>
<path d="M1468 451.1 H1514 Q1516 451.1 1516 453.1 V463.8 Q1516 465.8 1514 465.8 H1468 Z" fill="#000"/>
<text x="1475" y="462.1" font-family="Liberation Sans" font-size="10" fill="#fff" font-weight="bold" font-style="normal" text-anchor="start" textLength="35.2" lengthAdjust="spacingAndGlyphs">0.65559</text>
<path d="M1468 476 H1514 Q1516 476 1516 478 V488.7 Q1516 490.7 1514 490.7 H1468 Z" fill="#b9262f"/>
<text x="1475" y="487.0" font-family="Liberation Sans" font-size="10" fill="#fff" font-weight="bold" font-style="normal" text-anchor="start" textLength="35.2" lengthAdjust="spacingAndGlyphs">0.64100</text>
<path d="M1468 539.1 H1514 Q1516 539.1 1516 541.1 V551.7 Q1516 553.7 1514 553.7 H1468 Z" fill="#9598a1"/>
<text x="1475" y="550.0" font-family="Liberation Sans" font-size="10" fill="#131722" font-weight="normal" font-style="normal" text-anchor="start" textLength="35.2" lengthAdjust="spacingAndGlyphs">0.61703</text>
<text x="1119.5" y="309" font-family="Liberation Sans" font-size="13" fill="#111" font-weight="bold" font-style="italic" text-anchor="middle">The Aussie is on track for a very average</text>
<text x="1119.5" y="324.7" font-family="Liberation Sans" font-size="13" fill="#111" font-weight="bold" font-style="italic" text-anchor="middle">month so far, up just under 1% in December.</text>
<text x="1271.5" y="609.9" font-family="Liberation Sans" font-size="13" fill="#111" font-weight="bold" font-style="italic" text-anchor="middle">If Santa's rally can kick in, perhaps it can have</text>
<text x="1271.5" y="625.6" font-family="Liberation Sans" font-size="13" fill="#111" font-weight="bold" font-style="italic" text-anchor="middle">another crack at the 2025 high - but if it closes</text>
<text x="1271.5" y="641.8" font-family="Liberation Sans" font-size="13" fill="#111" font-weight="bold" font-style="italic" text-anchor="middle">below 65c it will leave a shooting star candle</text>
<text x="1271.5" y="657.6" font-family="Liberation Sans" font-size="13" fill="#111" font-weight="bold" font-style="italic" text-anchor="middle">and double top pattern around its 2025 high</text>
<g fill="#131313">
<path d="M12.1 805.1 H23.8 V819.7 H18.1 V810.6 H12.1 Z"/>
<circle cx="29.0" cy="808.0" r="2.9"/>
<path d="M35.0 805.1 H41.9 L36.1 819.7 H29.0 Z"/>
</g><text x="48.8" y="819.8" font-family="Liberation Sans" font-size="21.5" fill="#131313" font-weight="bold" font-style="normal" text-anchor="start" textLength="121.5" lengthAdjust="spacingAndGlyphs">TradingView</text>
</svg>
</body></html>
